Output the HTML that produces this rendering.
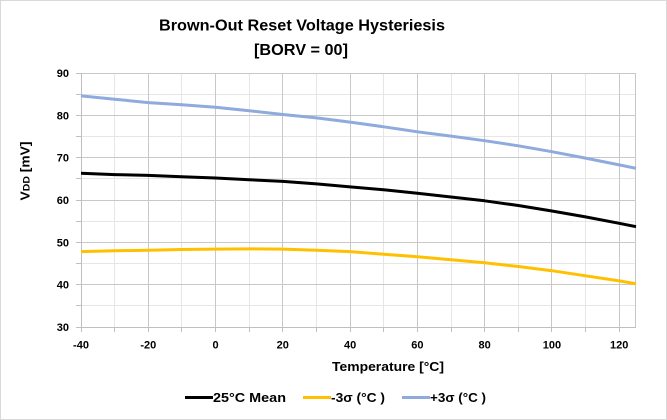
<!DOCTYPE html>
<html>
<head>
<meta charset="utf-8">
<style>
  html, body { margin: 0; padding: 0; background: #fff; }
  svg { display: block; }
  text { font-family: "Liberation Sans", "DejaVu Sans", sans-serif; font-weight: bold; fill: #000; }
</style>
</head>
<body>
<svg width="667" height="420" viewBox="0 0 667 420" xmlns="http://www.w3.org/2000/svg">
  <rect x="0.5" y="0.5" width="666" height="419" fill="#fff" stroke="#d9d9d9" stroke-width="1"/>

  <!-- Title -->
  <text x="302" y="30.5" font-size="15.5" text-anchor="middle" textLength="286" lengthAdjust="spacingAndGlyphs">Brown-Out Reset Voltage Hysteriesis</text>
  <text x="301" y="55" font-size="15.5" text-anchor="middle" textLength="94" lengthAdjust="spacingAndGlyphs">[BORV = 00]</text>

  <!-- minor horizontal gridlines -->
  <g stroke="#e6e6e6" stroke-width="1">
    <line x1="81" y1="94.5" x2="636" y2="94.5"/>
    <line x1="81" y1="136.5" x2="636" y2="136.5"/>
    <line x1="81" y1="178.5" x2="636" y2="178.5"/>
    <line x1="81" y1="221.5" x2="636" y2="221.5"/>
    <line x1="81" y1="263.5" x2="636" y2="263.5"/>
    <line x1="81" y1="305.5" x2="636" y2="305.5"/>
    <!-- minor vertical -->
    <line x1="114.5" y1="73" x2="114.5" y2="327"/>
    <line x1="181.5" y1="73" x2="181.5" y2="327"/>
    <line x1="249.5" y1="73" x2="249.5" y2="327"/>
    <line x1="316.5" y1="73" x2="316.5" y2="327"/>
    <line x1="383.5" y1="73" x2="383.5" y2="327"/>
    <line x1="451.5" y1="73" x2="451.5" y2="327"/>
    <line x1="518.5" y1="73" x2="518.5" y2="327"/>
    <line x1="585.5" y1="73" x2="585.5" y2="327"/>
  </g>
  <!-- major gridlines -->
  <g stroke="#c8c8c8" stroke-width="1">
    <line x1="81" y1="73.5" x2="636" y2="73.5"/>
    <line x1="81" y1="115.5" x2="636" y2="115.5"/>
    <line x1="81" y1="157.5" x2="636" y2="157.5"/>
    <line x1="81" y1="200.5" x2="636" y2="200.5"/>
    <line x1="81" y1="242.5" x2="636" y2="242.5"/>
    <line x1="81" y1="284.5" x2="636" y2="284.5"/>
    <line x1="148.5" y1="73" x2="148.5" y2="327"/>
    <line x1="215.5" y1="73" x2="215.5" y2="327"/>
    <line x1="282.5" y1="73" x2="282.5" y2="327"/>
    <line x1="350.5" y1="73" x2="350.5" y2="327"/>
    <line x1="417.5" y1="73" x2="417.5" y2="327"/>
    <line x1="484.5" y1="73" x2="484.5" y2="327"/>
    <line x1="551.5" y1="73" x2="551.5" y2="327"/>
    <line x1="619.5" y1="73" x2="619.5" y2="327"/>
    <line x1="635.5" y1="73" x2="635.5" y2="327"/>
  </g>

  <!-- axes -->
  <g stroke="#bfbfbf" stroke-width="1">
    <line x1="81.5" y1="73" x2="81.5" y2="327.5"/>
    <line x1="76" y1="327.5" x2="636" y2="327.5"/>
    <!-- y ticks -->
    <line x1="76" y1="73.5" x2="81" y2="73.5"/>
    <line x1="76" y1="94.5" x2="81" y2="94.5"/>
    <line x1="76" y1="115.5" x2="81" y2="115.5"/>
    <line x1="76" y1="136.5" x2="81" y2="136.5"/>
    <line x1="76" y1="157.5" x2="81" y2="157.5"/>
    <line x1="76" y1="178.5" x2="81" y2="178.5"/>
    <line x1="76" y1="200.5" x2="81" y2="200.5"/>
    <line x1="76" y1="221.5" x2="81" y2="221.5"/>
    <line x1="76" y1="242.5" x2="81" y2="242.5"/>
    <line x1="76" y1="263.5" x2="81" y2="263.5"/>
    <line x1="76" y1="284.5" x2="81" y2="284.5"/>
    <line x1="76" y1="305.5" x2="81" y2="305.5"/>
    <!-- x ticks -->
    <line x1="81.5" y1="327" x2="81.5" y2="332"/>
    <line x1="114.5" y1="327" x2="114.5" y2="332"/>
    <line x1="148.5" y1="327" x2="148.5" y2="332"/>
    <line x1="181.5" y1="327" x2="181.5" y2="332"/>
    <line x1="215.5" y1="327" x2="215.5" y2="332"/>
    <line x1="249.5" y1="327" x2="249.5" y2="332"/>
    <line x1="282.5" y1="327" x2="282.5" y2="332"/>
    <line x1="316.5" y1="327" x2="316.5" y2="332"/>
    <line x1="350.5" y1="327" x2="350.5" y2="332"/>
    <line x1="383.5" y1="327" x2="383.5" y2="332"/>
    <line x1="417.5" y1="327" x2="417.5" y2="332"/>
    <line x1="451.5" y1="327" x2="451.5" y2="332"/>
    <line x1="484.5" y1="327" x2="484.5" y2="332"/>
    <line x1="518.5" y1="327" x2="518.5" y2="332"/>
    <line x1="551.5" y1="327" x2="551.5" y2="332"/>
    <line x1="585.5" y1="327" x2="585.5" y2="332"/>
    <line x1="619.5" y1="327" x2="619.5" y2="332"/>
  </g>

  <!-- Y tick labels -->
  <g font-size="11" text-anchor="end">
    <text x="69" y="77">90</text>
    <text x="69" y="119.3">80</text>
    <text x="69" y="161.7">70</text>
    <text x="69" y="204">60</text>
    <text x="69" y="246.3">50</text>
    <text x="69" y="288.7">40</text>
    <text x="69" y="331">30</text>
  </g>
  <!-- X tick labels -->
  <g font-size="11" text-anchor="middle">
    <text x="81" y="348.5">-40</text>
    <text x="148.3" y="348.5">-20</text>
    <text x="215.5" y="348.5">0</text>
    <text x="282.8" y="348.5">20</text>
    <text x="350.1" y="348.5">40</text>
    <text x="417.4" y="348.5">60</text>
    <text x="484.6" y="348.5">80</text>
    <text x="551.9" y="348.5">100</text>
    <text x="619.2" y="348.5">120</text>
  </g>

  <!-- Axis titles -->
  <text x="388" y="371" font-size="13" text-anchor="middle" textLength="112" lengthAdjust="spacingAndGlyphs">Temperature [°C]</text>
  <text transform="translate(29.5,171) rotate(-90)" font-size="12.5" text-anchor="middle" textLength="59" lengthAdjust="spacingAndGlyphs">V<tspan font-size="9.5">DD</tspan> [mV]</text>

  <!-- Series -->
  <g fill="none" stroke-width="3" stroke-linejoin="round" stroke-linecap="butt">
    <polyline stroke="#8faadc" points="81,95.9 114.6,99.2 148.3,102.6 181.9,104.8 215.5,107.3 249.2,110.7 282.8,114.5 316.5,117.9 350.1,122.1 383.7,126.8 417.4,131.8 451,136.1 484.6,140.7 518.3,145.8 551.9,151.7 585.5,158.1 619.2,164.9 636,168.25"/>
    <polyline stroke="#000000" points="81,173.3 114.6,174.6 148.3,175.4 181.9,176.7 215.5,178 249.2,179.7 282.8,181.4 316.5,183.9 350.1,186.9 383.7,189.8 417.4,193.2 451,197 484.6,200.8 518.3,205.5 551.9,211 585.5,216.9 619.2,223.3 636,226.7"/>
    <polyline stroke="#ffc000" points="81,251.6 114.6,250.8 148.3,250.2 181.9,249.5 215.5,249.1 249.2,248.9 282.8,249.1 316.5,250.2 350.1,251.6 383.7,254.2 417.4,256.7 451,259.7 484.6,262.7 518.3,266.5 551.9,270.7 585.5,275.8 619.2,280.9 636,283.8"/>
  </g>

  <!-- Legend -->
  <g stroke-width="3">
    <line x1="185" y1="397.5" x2="213" y2="397.5" stroke="#000"/>
    <line x1="303" y1="397.5" x2="331" y2="397.5" stroke="#ffc000"/>
    <line x1="402" y1="397.5" x2="430" y2="397.5" stroke="#8faadc"/>
  </g>
  <g font-size="12.5">
    <text x="213" y="402" textLength="73" lengthAdjust="spacingAndGlyphs">25°C Mean</text>
    <text x="331" y="402" textLength="54" lengthAdjust="spacingAndGlyphs">-3σ (°C )</text>
    <text x="430" y="402" textLength="56" lengthAdjust="spacingAndGlyphs">+3σ (°C )</text>
  </g>
</svg>
</body>
</html>
